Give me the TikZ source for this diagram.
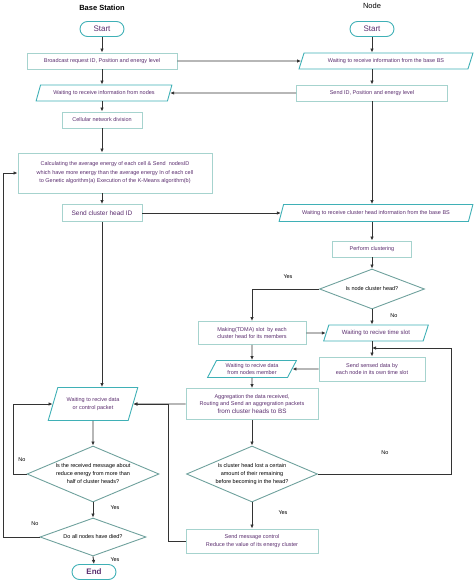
\documentclass[tikz,border=0pt]{standalone}
\usepackage{fontspec}
\setmainfont{Liberation Sans}
\usetikzlibrary{arrows.meta,shapes.geometric}

\definecolor{boxline}{HTML}{A6D3CE}
\definecolor{ioline}{HTML}{3FB0B6}
\definecolor{decline}{HTML}{6FA19D}
\definecolor{txtcol}{HTML}{5A2D6E}

\tikzset{
  proc/.style={rectangle, draw=boxline, line width=0.9pt, text=txtcol, align=center,
    inner sep=1pt, font=\fontsize{5.5}{7.5}\selectfont},
  io/.style={trapezium, trapezium left angle=63, trapezium right angle=117,
    trapezium stretches=true, draw=ioline, line width=0.9pt, text=txtcol, align=center,
    inner sep=1pt, font=\fontsize{5.5}{7.5}\selectfont},
  dec/.style={diamond, aspect=2.3, draw=decline, line width=0.9pt, align=center,
    inner sep=0pt, font=\fontsize{5.5}{8}\selectfont},
  term/.style={rectangle, rounded corners=7.5pt, draw=ioline, line width=0.9pt,
    text=txtcol, minimum width=44, minimum height=15, font=\fontsize{8}{9}\selectfont},
  lbl/.style={font=\fontsize{5.5}{7}\selectfont},
  arr/.style={draw=black!80, line width=0.9pt, -{Latex[length=4pt,width=3.5pt]}},
  line/.style={draw=black!80, line width=0.9pt}
}

\begin{document}
\begin{tikzpicture}[x=1pt,y=-1pt]
      \useasboundingbox (0,0) rectangle (474,582);

      % Titles
      \node[font=\bfseries\fontsize{7.5}{9}\selectfont] (bstitle) at (102,8) {Base Station};
      \node[font=\fontsize{7.5}{9}\selectfont] (ndtitle) at (372,6) {Node};

      % Base station column
      \node[term] (bsstart) at (102,29) {Start};
      \node[proc, minimum width=150, minimum height=16] (bcast) at (102,61) {Broadcast request ID, Position and energy level};
      \node[io, minimum width=136, minimum height=16] (waitn) at (104,93) {Waiting to receive information from nodes};
      \node[proc, minimum width=80, minimum height=16] (cell) at (102,120) {Cellular network division};
      \node[proc, minimum width=194, minimum height=40, font=\fontsize{5.5}{8.5}\selectfont] (calc) at (115,173)
        {Calculating the average energy of each cell \& Send\ \ nodesID\\which have more energy than the average energy In of each cell\\to Genetic algorithm(a) Execution of the K-Means algorithm(b)};
      \node[proc, minimum width=80, minimum height=17, font=\fontsize{6.5}{8}\selectfont] (sendch) at (102,213) {Send cluster head ID};
      \node[io, minimum width=90, minimum height=33] (waitdc) at (93,404) {Waiting to recive data\\or control packet};
      \node[dec, minimum width=132, minimum height=56] (dmsg) at (93,474) {Is the received message about\\reduce energy from more than\\half of cluster heads?};
      \node[dec, minimum width=106, minimum height=38] (ddied) at (93,537) {Do all nodes have died?};
      \node[term, font=\bfseries\fontsize{8}{9}\selectfont] (bsend) at (94,572) {End};

      % Node column
      \node[term] (ndstart) at (372,29) {Start};
      \node[io, minimum width=174, minimum height=16] (waitbs) at (386,61) {Waiting to receive information from the base BS};
      \node[proc, minimum width=151, minimum height=16] (sendid) at (372,93) {Send ID, Position and energy level};
      \node[io, minimum width=194, minimum height=17] (waitch) at (376,213) {Waiting to receive cluster head information from the base BS};
      \node[proc, minimum width=79, minimum height=16] (clust) at (372,249) {Perform clustering};
      \node[dec, minimum width=105, minimum height=40] (dhead) at (372,289) {Is node cluster head?};
      \node[io, minimum width=105, minimum height=16, font=\fontsize{6}{7.5}\selectfont] (waitts) at (376,333) {Waiting to recive time slot};
      \node[proc, minimum width=108, minimum height=23] (tdma) at (252,333) {Making(TDMA) slot\ \ by each\\cluster head for its members};
      \node[proc, minimum width=106, minimum height=24] (sense) at (372,369) {Send sensed data by\\each node in its own time slot};
      \node[io, minimum width=89, minimum height=17] (waitdm) at (252,369) {Waiting to recive data\\from nodes member};
      \node[proc, minimum width=132, minimum height=31] (aggr) at (252,404)
        {Aggregation the data received,\\Routing and Send an aggregration packets\\{\fontsize{6.3}{7.5}\selectfont from cluster heads to BS}};
      \node[dec, minimum width=131, minimum height=56] (dlost) at (252,474) {Is cluster head lost a certain\\amount of their remaining\\before becoming in the head?};
      \node[proc, minimum width=132, minimum height=24] (sendmc) at (252,541) {Send message control\\Reduce the value of its energy cluster};

      % Branch labels
      \node[lbl] (yhead) at (288,277) {Yes};
      \node[lbl] (nhead) at (394,316) {No};
      \node[lbl] (nlost) at (385,453) {No};
      \node[lbl] (ylost) at (283,513) {Yes};
      \node[lbl] (nmsg) at (22,460) {No};
      \node[lbl] (ymsg) at (115,508) {Yes};
      \node[lbl] (ndied) at (35,524) {No};
      \node[lbl] (ydied) at (115,560) {Yes};

      % Bend points
      \coordinate (lftrail) at (3,537);
      \coordinate (msgbend) at (13,474);
      \coordinate (mcbend) at (168,541);
      \coordinate (rtrail) at (451,474);
      \coordinate (slotin) at (372,348);

      % Base station flow
      \draw[arr] (bsstart) -- (bcast);
      \draw[arr] (bcast.south) -- (bcast.south |- waitn.north);
      \draw[arr] (cell.north |- waitn.south) -- (cell.north);
      \draw[arr] (cell.south) -- (cell.south |- calc.north);
      \draw[arr] (sendch.north |- calc.south) -- (sendch.north);
      \draw[arr] (sendch.south) -- (sendch.south |- waitdc.north);
      \draw[arr] (waitdc.south) -- (dmsg.north);
      \draw[arr] (dmsg.south) -- (ddied.north);
      \draw[arr] (ddied.south) -- (bsend.north);
      \draw[arr] (dmsg.west) -- (msgbend) |- (waitdc.west);
      \draw[arr] (ddied.west) -- (lftrail) |- (calc.west);

      % Node flow
      \draw[arr] (ndstart.south) -- (ndstart.south |- waitbs.north);
      \draw[arr] (sendid.north |- waitbs.south) -- (sendid.north);
      \draw[arr] (sendid.south) -- (sendid.south |- waitch.north);
      \draw[arr] (clust.north |- waitch.south) -- (clust.north);
      \draw[arr] (clust.south) -- (dhead.north);
      \draw[arr] (dhead.south) -- (dhead.south |- waitts.north);
      \draw[arr] (dhead.west) -| (tdma.north);
      \draw[arr] (tdma.east) -- (waitts.west);
      \draw[arr] (sense.north |- waitts.south) -- (sense.north);
      \draw[arr] (sense.west) -- (waitdm.east);
      \draw[arr] (tdma.south) -- (waitdm.north);
      \draw[arr] (waitdm.south) -- (aggr.north);
      \draw[arr] (aggr.south) -- (dlost.north);
      \draw[arr] (dlost.south) -- (sendmc.north);
      \draw[arr] (dlost.east) -- (rtrail) |- (slotin);

      % Between columns
      \draw[arr] (bcast.east) -- (waitbs.west);
      \draw[arr] (sendid.west) -- (waitn.east);
      \draw[arr] (sendch.east) -- (waitch.west);
      \draw[arr] (aggr.west) -- (waitdc.east);
      \draw[arr] (sendmc.west) -- (mcbend) |- (waitdc.east);

\end{tikzpicture}
\end{document}
